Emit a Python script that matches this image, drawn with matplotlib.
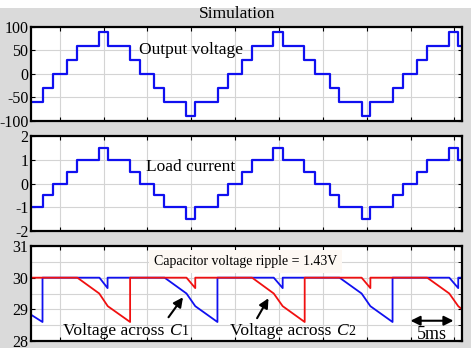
import matplotlib.pyplot as plt
from matplotlib.patches import Rectangle

plt.rcParams['font.family'] = ['Liberation Serif', 'DejaVu Serif']
plt.rcParams['axes.unicode_minus'] = False

# switching instants of the staircase (ms) and the levels between them
t_switch = [-3.34, -1.97, -0.80, 0.84, 1.98, 4.52, 5.47, 8.05, 9.11, 10.79, 11.92,
            14.43, 15.46, 18.00, 19.18, 20.77, 21.91, 24.37, 25.44, 27.90, 29.12,
            30.83, 31.89, 34.44, 35.39, 37.97, 39.11, 40.71, 41.85, 44.42, 45.44, 45.87]
v_out = [-60, -30, 0, 30, 60, 90, 60, 30, 0, -30, -60, -90, -60, -30, 0, 30, 60,
         90, 60, 30, 0, -30, -60, -90, -60, -30, 0, 30, 60, 90, 60]
i_load = [-1, -0.5, 0, 0.5, 1, 1.5, 1, 0.5, 0, -0.5, -1, -1.5, -1, -0.5, 0, 0.5, 1,
          1.5, 1, 0.5, 0, -0.5, -1, -1.5, -1, -0.5, 0, 0.5, 1, 1.5, 1]

# capacitor voltages (ms, V)
t_c1 = [-3.34, -1.97, -1.97, 4.52, 5.45, 5.45, 11.95, 14.45, 15.45, 17.98, 17.98,
        24.40, 25.42, 25.42, 31.90, 34.42, 35.42, 37.95, 37.95, 44.42, 45.44, 45.44, 45.87]
v_c1 = [28.84, 28.60, 30, 30, 29.67, 30, 30, 29.5, 29.1, 28.6, 30,
        30, 29.67, 30, 30, 29.5, 29.1, 28.6, 30, 30, 29.67, 30, 30]
t_c2 = [-3.34, 2.00, 4.50, 5.47, 8.02, 8.02, 14.45, 15.45, 15.45, 21.93, 24.40,
        25.42, 27.93, 27.93, 34.42, 35.42, 35.42, 41.90, 44.42, 45.44, 45.87]
v_c2 = [30, 30, 29.5, 29.1, 28.6, 30, 30, 29.67, 30, 30, 29.5,
        29.1, 28.6, 30, 30, 29.67, 30, 30, 29.5, 29.1, 29.0]

W, H = 474, 353
fig = plt.figure(figsize=(W / 100, H / 100), dpi=100)
fig.patch.set_facecolor('white')
fig.patches.append(Rectangle((0, (H - 348) / H), 471 / W, 340 / H,
                             transform=fig.transFigure, facecolor='#dadada',
                             edgecolor='none', zorder=-10))


def make_ax(top, bottom):
    left, right = 30.5, 462
    ax = fig.add_axes([left / W, (H - bottom) / H, (right - left) / W, (bottom - top) / H])
    ax.set_facecolor('white')
    ax.set_xlim(t_switch[0], t_switch[-1])
    ax.set_xticks(range(0, 46, 5))
    ax.set_xticklabels([])
    ax.grid(True, color='#d4d4d4', linewidth=0.8)
    ax.tick_params(direction='in', top=True, right=True, length=3, width=0.8,
                   labelsize=11.5, pad=1.5, colors='black')
    for s in ax.spines.values():
        s.set_linewidth(1.6)
    ax.set_axisbelow(True)
    return ax


fig.text(0.5, 1 - 14 / H, 'Simulation', ha='center', va='center', fontsize=12.5)

ax1 = make_ax(27, 120.5)
ax1.step(t_switch, v_out + [v_out[-1]], where='post', color='#1010f0', linewidth=1.6)
ax1.set_ylim(-100, 100)
ax1.set_yticks([-100, -50, 0, 50, 100])
ax1.text(15.0, 51, 'Output voltage', ha='center', va='center', fontsize=12.5)

ax2 = make_ax(136, 231)
ax2.step(t_switch, i_load + [i_load[-1]], where='post', color='#1010f0', linewidth=1.6)
ax2.set_ylim(-2, 2)
ax2.set_yticks([-2, -1, 0, 1, 2])
ax2.text(14.9, 0.68, 'Load current', ha='center', va='center', fontsize=12.5)

ax3 = make_ax(246, 341)
ax3.plot(t_c1, v_c1, color='#1010f0', linewidth=1.3)
ax3.plot(t_c2, v_c2, color='#f01010', linewidth=1.3)
ax3.set_ylim(28, 31)
ax3.set_yticks([28, 29, 30, 31])
ax3.set_yticks([28.5, 29.5, 30.5], minor=True)
ax3.tick_params(which='minor', direction='in', right=True, left=False, length=3)
ax3.grid(True, which='minor', axis='y', color='#d4d4d4', linewidth=0.8)
ax3.text(21.2, 30.52, 'Capacitor voltage ripple = 1.43V', ha='center', va='center',
         fontsize=10, bbox=dict(facecolor='#fdf8f3', edgecolor='none', pad=3.5))

# "Voltage across C1" / "Voltage across C2": upright words, italic C, small index
fig.canvas.draw()
renderer = fig.canvas.get_renderer()
for x0, idx in [(0.42, '1'), (19.44, '2')]:
    t1 = ax3.text(x0, 28.2, 'Voltage across ', ha='left', va='baseline', fontsize=12.6)
    e1 = t1.get_window_extent(renderer)
    xa = ax3.transData.inverted().transform((e1.x1, 0))[0]
    t2 = ax3.text(xa, 28.2, 'C', ha='left', va='baseline', fontsize=12.6, fontstyle='italic')
    e2 = t2.get_window_extent(renderer)
    xb = ax3.transData.inverted().transform((e2.x1 + 0.5, 0))[0]
    ax3.text(xb, 28.2, idx, ha='left', va='baseline', fontsize=10)

arrow = dict(arrowstyle='-|>', color='black', lw=1.5, mutation_scale=14,
             shrinkA=0, shrinkB=0)
ax3.annotate('', xy=(14.05, 29.38), xytext=(12.4, 28.75), arrowprops=arrow)
ax3.annotate('', xy=(23.8, 29.35), xytext=(22.5, 28.72), arrowprops=arrow)
ax3.annotate('', xy=(40.0, 28.64), xytext=(44.9, 28.64),
             arrowprops=dict(arrow, arrowstyle='<|-|>'))
ax3.text(42.45, 28.22, '5ms', ha='center', va='center', fontsize=13)

fig.savefig('out.png', dpi=100)
